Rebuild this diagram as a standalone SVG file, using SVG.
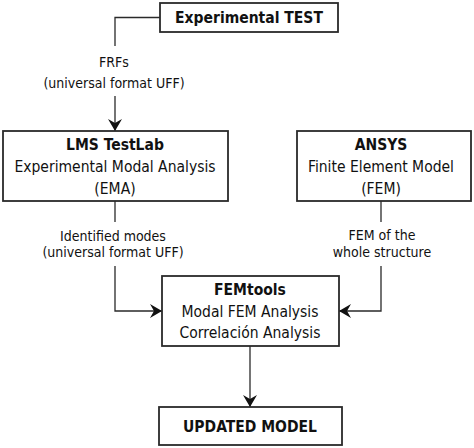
<svg xmlns="http://www.w3.org/2000/svg" width="474" height="448" viewBox="0 0 474 448">
<style>
.box{fill:#fff;stroke:#2a2a2a;stroke-width:1.8}
.t{font-family:"DejaVu Sans Condensed","DejaVu Sans",sans-serif;font-stretch:condensed;font-size:15.5px;fill:#111;text-anchor:middle}
.b{font-weight:bold}
.l{font-size:14px}
.c{fill:none;stroke:#2a2a2a;stroke-width:1.3}
</style>
<defs>
<marker id="arr" viewBox="0 0 12 14" refX="12" refY="7" markerWidth="12" markerHeight="14" markerUnits="userSpaceOnUse" orient="auto">
<path d="M0,0 L12,7 L0,14 L4,7 Z" fill="#111"/>
</marker>
</defs>
<rect width="474" height="448" fill="#fff"/>
<g id="connectors">
<polyline class="c" points="160,17.5 115,17.5 115,46"/>
<polyline class="c" points="115,96 115,131" marker-end="url(#arr)"/>
<polyline class="c" points="115,201 115,222"/>
<polyline class="c" points="115,266 115,311 162,311" marker-end="url(#arr)"/>
<polyline class="c" points="381,201 381,222"/>
<polyline class="c" points="381,266 381,311 339,311" marker-end="url(#arr)"/>
<polyline class="c" points="250,346 250,407" marker-end="url(#arr)"/>
<text class="t l" x="114" y="67">FRFs</text>
<text class="t l" x="114" y="88">(universal format UFF)</text>
<text class="t l" x="113" y="241">Identified modes</text>
<text class="t l" x="113" y="257">(universal format UFF)</text>
<text class="t l" x="382" y="240">FEM of the</text>
<text class="t l" x="382" y="257">whole structure</text>
</g>
<g id="experimental-test">
<rect class="box" x="160" y="3" width="178" height="29"/>
<text class="t b" x="249" y="23">Experimental TEST</text>
</g>
<g id="lms-testlab">
<rect class="box" x="3" y="131" width="225" height="70"/>
<text class="t b" x="115" y="150">LMS TestLab</text>
<text class="t" x="115" y="172">Experimental Modal Analysis</text>
<text class="t" x="115" y="194">(EMA)</text>
</g>
<g id="ansys">
<rect class="box" x="297" y="131" width="174" height="70"/>
<text class="t b" x="381" y="150">ANSYS</text>
<text class="t" x="381" y="172">Finite Element Model</text>
<text class="t" x="381" y="194">(FEM)</text>
</g>
<g id="femtools">
<rect class="box" x="162" y="276" width="177" height="70"/>
<text class="t b" x="250" y="295">FEMtools</text>
<text class="t" x="250" y="317">Modal FEM Analysis</text>
<text class="t" x="250" y="338">Correlación Analysis</text>
</g>
<g id="updated-model">
<rect class="box" x="159" y="407" width="183" height="38"/>
<text class="t b" x="250" y="432">UPDATED MODEL</text>
</g>
</svg>
